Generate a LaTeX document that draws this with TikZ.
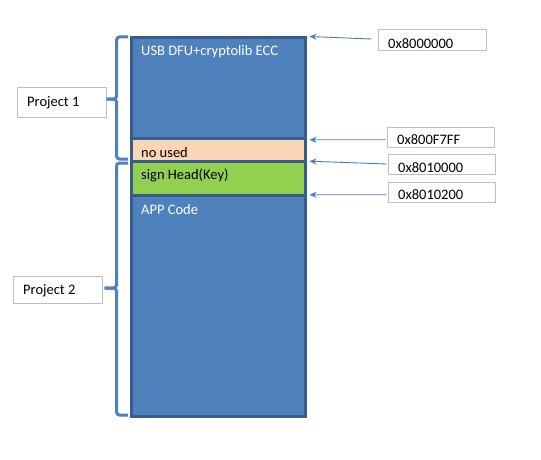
\documentclass[tikz,border=0pt]{standalone}
\usepackage{fontspec}
\setmainfont{Carlito}
\usetikzlibrary{arrows.meta,calc}
\definecolor{memblue}{HTML}{4F81BD}
\definecolor{memedge}{HTML}{385D8A}
\definecolor{peach}{HTML}{FBD5B5}
\definecolor{lgreen}{HTML}{92D050}
\definecolor{boxgray}{HTML}{BFBFBF}
\definecolor{arrblue}{HTML}{4A7EBB}
\begin{document}
\begin{tikzpicture}[x=1pt,y=-1pt,font=\fontsize{14.5}{17}\selectfont,
  mem/.style={draw=memedge,line width=3pt,inner sep=0pt,minimum width=174pt,rectangle},
  addr/.style={draw=boxgray,line width=1pt,fill=white,inner sep=0pt,rectangle,minimum width=107pt},
  lbl/.style={anchor=base west,inner sep=0pt},
  brace/.style={draw=memblue,line width=3pt,rounded corners=3pt},
  arr/.style={draw=arrblue,line width=0.9pt,-{Stealth[length=7pt,width=6pt]}}]
\useasboundingbox[fill=white] (0,0) rectangle (541,460);
% memory blocks
\node[mem,fill=memblue,minimum height=101.4pt] (usb) at (218.5,88) {};
\node[mem,fill=peach,minimum height=23pt] (nouse) at (218.5,150.2) {};
\node[mem,fill=lgreen,minimum height=33.3pt] (sign) at (218.5,178.35) {};
\node[mem,fill=memblue,minimum height=221pt] (app) at (218.5,305.5) {};
\node[lbl,text=white] (usbt) at (141,56) {USB DFU+cryptolib ECC};
\node[lbl] (nouset) at (141,157) {no used};
\node[lbl] (signt) at (141,179) {sign Head(Key)};
\node[lbl,text=white] (appt) at (141,214) {APP Code};
% address boxes
\node[addr,minimum width=108pt,minimum height=21pt] (a1) at (432,40.5) {};
\node[addr,minimum height=20pt] (a2) at (440.5,137) {};
\node[addr,minimum height=19.5pt] (a3) at (441.5,164.5) {};
\node[addr,minimum height=20pt] (a4) at (441.5,192) {};
\node[lbl] (a1t) at (388,49) {0x8000000};
\node[lbl] (a2t) at (397,144) {0x800F7FF};
\node[lbl] (a3t) at (398,172.5) {0x8010000};
\node[lbl] (a4t) at (398,199) {0x8010200};
% arrows
\draw[arr] ($(a1.west)+(-6,-1.5)$) -- ($(usb.north east)+(2.5,0.7)$);
\draw[arr] ($(a2.west)+(-1,2.7)$) -- ($(usb.south east)+(2.5,-0.4)$);
\draw[arr] ($(a3.west)+(-1,-0.5)$) -- ($(sign.north east)+(2.5,1)$);
\draw[arr] ($(a4.west)+(-1,2.7)$) -- ($(sign.south east)+(2.5,-1.7)$);
% project boxes
\node[addr,minimum width=89pt,minimum height=29pt] (p1) at (61.5,102.5) {};
\node[addr,minimum width=89pt,minimum height=27pt] (p2) at (57.5,289.5) {};
\node[lbl] (p1t) at (27,106.5) {Project 1};
\node[lbl] (p2t) at (23,294) {Project 2};
% braces
\coordinate (b1top) at (128,37);
\coordinate (b1bot) at (128,159);
\coordinate (b1mid) at (116.5,99);
\coordinate (b2top) at (128,163);
\coordinate (b2bot) at (128,415);
\coordinate (b2mid) at (116.5,288);
\draw[brace] (b1top) -| (b1mid) -- (p1.east |- b1mid);
\draw[brace] (b1bot) -| (b1mid) -- (p1.east |- b1mid);
\draw[brace] (b2top) -| (b2mid) -- ($(p2.east |- b2mid)+(2,0)$);
\draw[brace] (b2bot) -| (b2mid) -- ($(p2.east |- b2mid)+(2,0)$);
\end{tikzpicture}
\end{document}
